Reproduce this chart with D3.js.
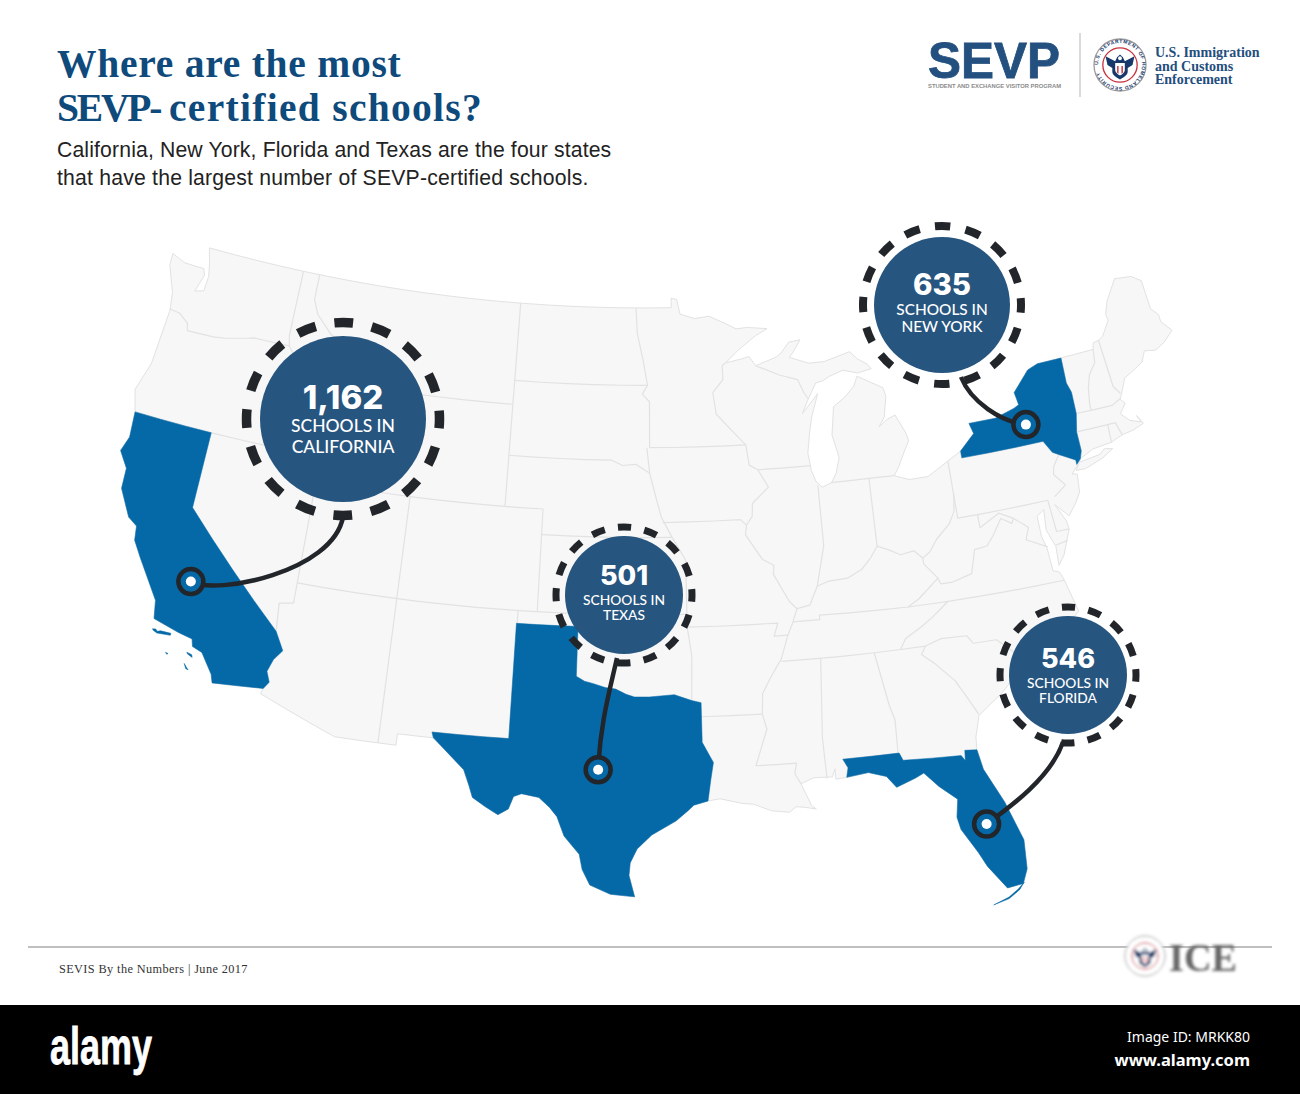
<!DOCTYPE html>
<html>
<head>
<meta charset="utf-8">
<title>Where are the most SEVP-certified schools?</title>
<style>
body { margin: 0; background: #fff; }
svg { display: block; }
.land { fill: #f7f7f7; stroke: #e2e2e2; stroke-width: 1; stroke-linejoin: round; }
.border { fill: none; stroke: #e2e2e2; stroke-width: 1.2; stroke-linejoin: round; }
.state { fill: #0569a8; stroke: #0569a8; stroke-width: .5; }
.serif { font-family: "Liberation Serif", serif; }
.sans { font-family: "Liberation Sans", sans-serif; }
.callout { fill: #fff; text-anchor: middle; }
</style>
</head>
<body>
<svg width="1300" height="1094"></svg>
<script src="https://d3js.org/d3.v7.min.js"></script>
<script>
// the numbers
var stateNames = ["CALIFORNIA", "NEW YORK", "TEXAS", "FLORIDA"];
var schoolCounts = [1162, 635, 501, 546];
var pinLonLat = [[-119.2, 36.19], [-76.05, 42.78], [-98.85, 30.94], [-81.55, 27.76]];

// lon/lat outlines
var riverCoastTX = [[-93.85,29.7],[-94.5,29.55],[-94.75,29.35],[-95.3,28.95],[-96.4,28.4],[-97.05,27.85],[-97.35,27.3],[-97.4,26.8],[-97.15,25.96],[-98.2,26.05],[-99.1,26.4],[-99.45,27],[-99.6,27.6],[-100.3,28.3],[-100.65,29.05],[-101,29.4],[-101.5,29.77],[-102.3,29.88],[-102.65,29.75],[-102.85,29.25],[-103.3,29],[-103.9,29.28],[-104.5,29.6],[-104.7,30.05],[-105,30.65],[-106,31.4],[-106.53,31.78]];
var coastFL = [[-81.45,30.7],[-81.3,29.9],[-80.6,28.5],[-80.05,26.9],[-80.13,25.75],[-80.4,25.2],[-81.1,25.13],[-81.8,26.1],[-82.1,26.7],[-82.7,27.7],[-82.8,28.2],[-82.65,28.9],[-83.4,29.5],[-84,30.1],[-84.4,29.95],[-85.3,29.68],[-85.7,30.15],[-86.5,30.38],[-87.5,30.28]];
var coastCA = [[-114.72,32.72],[-117.12,32.53],[-117.25,32.85],[-117.9,33.6],[-118.4,33.75],[-118.5,34.03],[-119.2,34.15],[-120.5,34.45],[-120.65,35.15],[-121.9,36.6],[-122.4,37.2],[-122.5,37.75],[-123,38],[-123.75,39],[-123.8,39.8],[-124.35,40.4],[-124.1,41],[-124.2,41.99]];
var outline = [[-124.73,48.38],[-123.9,48.16],[-123.1,48.15],[-122.75,48.15],[-122.6,47.9],[-122.9,47.2],[-122.4,47.3],[-122.35,47.9],[-122.5,48.4],[-122.76,49],
  [-95.15,49],[-95.15,49.38],[-94.82,49.32],[-94.64,48.74],[-93.8,48.55],[-92.95,48.62],[-92,48.3],[-91.4,48.07],[-90.75,48.1],[-89.6,48],
  [-90.3,47.75],[-91.3,47.25],[-92.1,46.75],[-91.2,46.87],[-90.75,46.95],[-90.4,46.57],[-89.2,46.85],[-88.9,47],[-88.4,47.4],[-87.75,47.45],[-88.2,47],[-88.45,46.8],[-87.4,46.5],[-86.5,46.5],[-85,46.77],[-84.6,46.45],[-84.1,46.2],[-83.9,46],[-84.7,45.9],
  [-85.5,46.08],[-86.3,45.9],[-86.7,45.75],[-87.1,45.7],[-87.6,45.1],[-88,44.55],[-87.05,45.27],[-87.5,44.4],[-87.7,43.8],[-87.9,43],[-87.8,42.3],[-87.6,41.85],[-87.3,41.62],[-86.8,41.76],[-86.5,42.1],[-86.25,42.7],[-86.5,43.6],[-86.25,44.7],[-85.6,45],[-85,45.4],[-84.75,45.78],
  [-84.1,45.5],[-83.4,45.2],[-83.3,44.85],[-83.55,44.05],[-83.9,43.7],[-83.4,43.95],[-82.95,44.07],[-82.5,43.3],[-82.42,43],[-82.9,42.4],[-83.15,42.05],[-83.45,41.73],[-82.7,41.5],[-81.7,41.5],[-80.5,41.98],[-79.76,42.27],[-78.9,42.85],[-79.05,43.27],[-77.6,43.27],[-76.5,43.5],[-76.2,43.6],[-76.3,44.1],[-75.3,44.85],[-74.7,45],
  [-71.5,45.01],[-71.4,45.25],[-71.08,45.3],[-70.8,45.4],[-70.25,45.95],[-70.3,46.2],[-70,46.7],[-69.23,47.46],[-69.05,47.43],[-68.3,47.35],[-67.8,47.07],[-67.78,45.9],[-67.45,45.6],[-67.45,45.3],[-67,44.85],
  [-67.6,44.5],[-68.2,44.3],[-68.8,44.4],[-69.1,44],[-69.8,43.75],[-70.25,43.6],[-70.6,43.1],[-70.8,42.85],[-70.6,42.65],[-71,42.3],[-70.6,41.95],[-70.05,41.78],[-70.2,42.07],[-69.95,41.7],[-70.6,41.55],[-71.15,41.5],[-71.4,41.45],[-71.85,41.32],[-72.9,41.25],[-73.65,41],[-73.75,40.85],[-74,40.7],
  [-74.25,40.5],[-74,40.45],[-74.1,39.75],[-74.4,39.4],[-74.9,38.95],[-75.5,39.5],[-75.1,38.8],[-75.05,38.45],[-75.6,37.5],[-75.95,37.15],[-75.9,37.9],[-76.2,38.6],[-76.1,39.4],[-76.5,39.2],[-76.5,38.4],[-76.35,37.9],[-76.3,37],[-76,36.9],[-75.85,36.55],[-75.5,35.25],[-76.5,34.65],[-77.9,33.9],[-78.55,33.85],[-79.2,33.2],[-79.9,32.7],[-80.7,32.25],[-81.1,32],[-81.4,31.2]]
  .concat(coastFL, [[-88,30.25],[-88,30.65],[-88.15,30.35],[-89,30.38],[-89.6,30.18],[-89.4,29.75],[-89.2,29.3],[-89,29.15],[-89.5,29.25],[-89.9,29.3],[-90.2,29.1],[-91,29.2],[-91.8,29.5],[-92.3,29.55],[-93.3,29.77]], riverCoastTX,
  [[-108.21,31.78],[-108.21,31.33],[-111.07,31.33],[-114.8,32.5]], coastCA, [[-124.55,42.84],[-124.1,44],[-123.95,46.2],[-124.1,46.9],[-124.7,47.9]]);
var longIsland = [[-74,40.6],[-73.75,40.88],[-72.6,40.98],[-72.3,41.15],[-71.87,41.07],[-72.5,40.82],[-73.5,40.58]];

var borders = [
  [[-124,46.25],[-123.4,46.2],[-122.8,45.9],[-122.7,45.62],[-121.2,45.65],[-120.5,45.72],[-119.3,45.93],[-118.98,46],[-116.92,46]],
  [[-117.03,49],[-117.04,46.42],[-116.92,46],[-116.46,45.6],[-116.85,44.95],[-117.2,44.4],[-117.03,44],[-117.03,42]],
  [[-124.2,42],[-111.05,42]],
  [[-114.63,35],[-114.74,36.1],[-114.05,36.2],[-114.05,42]],
  [[-114.05,37],[-94.62,37]],
  [[-111.05,45],[-111.05,41],[-109.05,41],[-109.05,31.33]],
  [[-111.05,45],[-104.05,45]],
  [[-109.05,41],[-102.05,41],[-102.05,37]],
  [[-116.05,49],[-116.05,48],[-115.7,47.45],[-114.7,46.75],[-114.35,46.65],[-114.55,45.55],[-113.9,45.65],[-113.45,44.95],[-113,44.45],[-112,44.55],[-111.5,44.55],[-111.05,44.48]],
  [[-104.05,49],[-104.05,41]],
  [[-104.05,45.94],[-96.56,45.94]],
  [[-104.05,43],[-98.5,43],[-97.9,42.8],[-97.2,42.85],[-96.45,42.5]],
  [[-102.05,40],[-95.3,40]],
  [[-103,37],[-103.04,32],[-106.62,32],[-106.53,31.78]],
  [[-94.62,37],[-94.62,36.5],[-94.43,35.4],[-94.48,33.64]],
  [[-94.04,33],[-91.17,33]],
  [[-94.62,36.5],[-90.15,36.5],[-90.37,36],[-89.7,36]],
  [[-94.62,37],[-94.62,39.1],[-95.3,40],[-95.85,40.8],[-96.1,41.5],[-96.45,42.5],[-96.6,43.5]],
  [[-96.45,43.5],[-96.45,45.3],[-96.85,45.6],[-96.56,45.94],[-96.8,46.9],[-97.15,48],[-97.23,49]],
  [[-96.45,43.5],[-91.22,43.5]],
  [[-95.77,40.58],[-91.73,40.6],[-91.42,40.38]],
  [[-92.1,46.75],[-92.3,46.65],[-92.3,46.1],[-92.9,45.6],[-92.75,44.75],[-91.22,43.5],[-91.1,42.7],[-90.65,42.5],[-90.15,41.8],[-91.05,41.2],[-91.1,40.7],[-91.42,40.38],[-91.5,40],[-90.7,39],[-90.15,38.75],[-90.2,38.4],[-89.5,37.3],[-89.15,37],[-89.4,36.5],[-89.7,36],[-90.1,35.1],[-90.6,34.5],[-91.1,33.8],[-91.17,33],[-91,32.4],[-91.6,31],[-89.73,31],[-89.85,30.6],[-89.6,30.18]],
  [[-90.1,35],[-83.1,35]],
  [[-88.2,35],[-88.45,31.9],[-88.4,30.3]],
  [[-85.6,35],[-85.18,32.87],[-85,32.3],[-85.05,31],[-84.86,30.7]],
  [[-85,31],[-87.6,31],[-87.4,30.65],[-87.5,30.28]],
  [[-83.1,35],[-83.35,34.7],[-82.75,34.25],[-81.95,33.5],[-81.4,32.6],[-81.1,32.05]],
  [[-83.1,35],[-82.3,35.2],[-81.05,35.15],[-80.8,34.82],[-79.67,34.8],[-78.55,33.86]],
  [[-84.32,35],[-84,35.4],[-83.2,35.75],[-82.6,36.05],[-81.68,36.59]],
  [[-83.68,36.6],[-81.68,36.59],[-75.87,36.55]],
  [[-89.4,36.5],[-88.07,36.5],[-88.07,36.68],[-83.68,36.6],[-83.1,36.85],[-82,37.54],[-81.9,37.3],[-81.3,37.3],[-80.3,37.5],[-79.95,38.4],[-79.3,38.45],[-78.9,38.8],[-78.35,39.4],[-77.83,39.13],[-77.72,39.32]],
  [[-82,37.54],[-82.6,38.17],[-82.6,38.4],[-83,38.73],[-83.7,38.65],[-84.25,38.9],[-84.82,39.1],[-85.2,38.7],[-85.75,38.27],[-86.5,38],[-87.5,37.95],[-88.05,37.8],[-88.5,37.1],[-89.15,37]],
  [[-82.6,38.4],[-82.2,38.6],[-81.75,39.05],[-81,39.55],[-80.65,40],[-80.52,40.64]],
  [[-88.05,37.8],[-87.53,39.35],[-87.53,41.7]],
  [[-84.82,39.1],[-84.8,41.76]],
  [[-86.82,41.76],[-84.8,41.76],[-83.45,41.73]],
  [[-90.65,42.5],[-87.8,42.5]],
  [[-90.4,46.57],[-89.1,46.14],[-88.1,45.9],[-87.8,45.35],[-87.6,45.1]],
  [[-80.52,41.98],[-80.52,39.72],[-75.79,39.72]],
  [[-79.76,42.27],[-79.76,42],[-75.35,42],[-75,41.5],[-74.7,41.36],[-75.1,40.95],[-75.2,40.65],[-74.72,40.15],[-75.4,39.8]],
  [[-74.7,41.36],[-73.9,41]],
  [[-79.48,39.72],[-79.48,39.2],[-78.4,39.62],[-77.72,39.32],[-77.05,38.85],[-77.3,38.4],[-76.3,37.95]],
  [[-75.79,39.72],[-75.7,38.46],[-75.05,38.45]],
  [[-75.9,37.95],[-75.25,38.03]],
  [[-73.35,45],[-73.4,44],[-73.25,43.6],[-73.28,42.75],[-73.5,42.05],[-73.5,41.3],[-73.65,41]],
  [[-71.5,45.01],[-71.6,44.5],[-72.05,44.1],[-72.3,43.6],[-72.45,43],[-72.46,42.73]],
  [[-73.28,42.75],[-71.3,42.7],[-70.8,42.87]],
  [[-73.5,42.05],[-71.8,42.02],[-71.38,42.02],[-71.2,41.5]],
  [[-71.8,42.02],[-71.85,41.32]],
  [[-71.08,45.3],[-70.98,43.4],[-70.7,43.07]]
];

var california = [[-124.2,42],[-120,42],[-120,39],[-114.63,35],[-114.14,34.3],[-114.5,33.9],[-114.7,33.4],[-114.5,33]].concat(coastCA);
var caIslands = [
  [[-120.45,34.05],[-120.3,34.07],[-120.2,34.0],[-120.05,34.05],[-119.55,34.05],[-119.55,33.97],[-120.2,33.93],[-120.4,34.0]],
  [[-118.6,33.48],[-118.35,33.43],[-118.3,33.33],[-118.55,33.42]],
  [[-118.6,33.03],[-118.45,32.9],[-118.35,32.82],[-118.48,32.85]],
  [[-119.58,33.28],[-119.45,33.26],[-119.5,33.22]]
];
var newYork = [[-79.76,42.27],[-78.9,42.85],[-79.05,43.27],[-77.6,43.27],[-76.5,43.5],[-76.2,43.6],[-76.3,44.1],[-75.3,44.85],[-74.7,45],[-73.35,45],[-73.4,44],[-73.25,43.6],[-73.28,42.75],[-73.5,42.05],[-73.5,41.3],[-73.65,41],[-73.9,40.82],[-73.9,41],[-74.7,41.36],[-75,41.5],[-75.35,42],[-79.76,42]];
var texas = [[-103.04,36.5],[-100,36.5],[-100,34.56],[-99.6,34.38],[-99.2,34.3],[-98.6,34.15],[-98.1,34.1],[-97.6,33.9],[-97.2,33.8],[-96.5,33.8],[-95.3,33.88],[-94.48,33.64],[-94.04,33.55],[-94.04,32],[-93.55,31.2],[-93.7,30.5]].concat(riverCoastTX, [[-106.62,32],[-103.04,32]]);
var florida = [[-87.6,31],[-85,31],[-84.86,30.7],[-82.2,30.57],[-82.05,30.35],[-82,30.75]].concat(coastFL, [[-87.4,30.65]]);
var floridaKeys = [[-80.35,25.25],[-80.6,24.98],[-81.1,24.7],[-81.8,24.55],[-81.1,24.76],[-80.65,25.02]];

var svg = d3.select("svg");
var projection = d3.geoAlbers().rotate([96.7, 0]).center([0, 38.7]).scale(1460).translate([645, 571]);

// straight lon/lat runs have to bend with the projection
function densify(pts) {
  var out = [];
  pts.forEach(function(p, i) {
    out.push(p);
    var q = pts[i + 1];
    if (!q) return;
    var n = Math.ceil(Math.abs(q[0] - p[0]) / 1.5);
    for (var k = 1; k < n; k++) out.push([p[0] + (q[0] - p[0]) * k / n, p[1] + (q[1] - p[1]) * k / n]);
  });
  return out;
}
function ring(pts) { return d3.line()(densify(pts.concat([pts[0]])).map(projection)) + "Z"; }
function polyline(pts) { return d3.line()(densify(pts).map(projection)); }

// header
var title = svg.append("g").attr("class", "serif").attr("fill", "#0e4a7b").attr("font-weight", "bold").attr("font-size", 39.5).attr("letter-spacing", .75);
title.append("text").attr("x", 57).attr("y", 77).text("Where are the most");
var line2 = title.append("text").attr("y", 121);
line2.append("tspan").attr("x", 57).attr("letter-spacing", -2.2).text("SEVP-");
line2.append("tspan").attr("x", 169).attr("letter-spacing", 1.3).text("certified schools?");
var sub = svg.append("g").attr("class", "sans").attr("fill", "#222").attr("font-size", 21.2);
sub.append("text").attr("x", 57).attr("y", 157).attr("letter-spacing", .14).text("California, New York, Florida and Texas are the four states");
sub.append("text").attr("x", 57).attr("y", 185).attr("letter-spacing", .2).text("that have the largest number of SEVP-certified schools.");

// logo block
var logo = svg.append("g");
logo.append("text").attr("class", "sans").attr("x", 928).attr("y", 78).attr("font-size", 50).attr("font-weight", "bold").attr("fill", "#23507f").attr("stroke", "#23507f").attr("stroke-width", .8).attr("textLength", 132).attr("lengthAdjust", "spacingAndGlyphs").text("SEVP");
logo.append("text").attr("class", "sans").attr("x", 928).attr("y", 88).attr("font-size", 6).attr("font-weight", "bold").attr("fill", "#8a8a8a").attr("textLength", 133).attr("lengthAdjust", "spacingAndGlyphs").text("STUDENT AND EXCHANGE VISITOR PROGRAM");
logo.append("line").attr("x1", 1080).attr("x2", 1080).attr("y1", 33).attr("y2", 97).attr("stroke", "#b5b5b5");
function seal(g, x, y, r) {
  var at = "translate(" + x + "," + y + ") scale(" + r / 27 + ")";
  g.append("circle").attr("cx", x).attr("cy", y).attr("r", r).attr("fill", "#fff").attr("stroke", "#9a9a9a").attr("stroke-width", r * .05);
  g.append("circle").attr("cx", x).attr("cy", y).attr("r", r * .66).attr("fill", "#fff").attr("stroke", "#c8313e").attr("stroke-width", r * .05);
  g.append("path").attr("transform", at).attr("fill", "#17386b")
    .attr("d", "M-15,-9L-5,-4L-3,-8L0,-11L3,-8L5,-4L15,-9L13,0L8,3L8,7C8,11 3,13 0,15C-3,13 -8,11 -8,7L-8,3L-13,0Z");
  g.append("circle").attr("transform", at).attr("cy", -7).attr("r", 2).attr("fill", "#fff");
  g.append("path").attr("transform", at).attr("fill", "#fff").attr("d", "M-5,-2L5,-2L5,5C5,8 2,10 0,11C-2,10 -5,8 -5,5Z");
  g.append("path").attr("transform", at).attr("fill", "#c8313e").attr("d", "M-3,1L-1.5,1L-1.5,9L-3,8ZM1.5,1L3,1L3,8L1.5,9Z");
}
seal(logo, 1120, 65, 26);
logo.append("path").attr("id", "sealArc").attr("fill", "none").attr("d", "M1098,65A22,22 0 1 1 1142,65A22,22 0 1 1 1098,65");
logo.append("text").attr("class", "sans").attr("font-size", 5).attr("font-weight", "bold").attr("fill", "#17386b")
  .append("textPath").attr("href", "#sealArc").attr("textLength", 130).text("U.S. DEPARTMENT OF HOMELAND SECURITY");
var ice = logo.append("g").attr("class", "serif").attr("font-size", 14).attr("font-weight", "bold").attr("fill", "#1f4e7d");
["U.S. Immigration", "and Customs", "Enforcement"].forEach(function(t, i) {
  ice.append("text").attr("x", 1155).attr("y", 57 + i * 13.7).text(t);
});

// map
var map = svg.append("g");
map.append("path").attr("class", "land").attr("d", ring(outline));
map.append("path").attr("class", "land").attr("d", ring(longIsland));
map.selectAll(".border").data(borders).enter().append("path").attr("class", "border").attr("d", polyline);
map.selectAll(".state").data([california, newYork, texas, florida, floridaKeys].concat(caIslands)).enter().append("path")
  .attr("class", "state").attr("d", ring);

// callouts, sizes follow the picture
var circleXY = [[343, 419], [942, 305], [624, 595], [1068, 675]];
var circleR = [83, 68, 59, 59];
var ringR = [96.5, 79, 68, 68];
var ringW = [9.5, 8, 7, 7];
var numberSize = [33, 29.5, 27, 27];
var labelSize = [17.5, 15.4, 13.8, 13.8];
var textDY = [[-10, 13, 34], [-10, 9.5, 27], [-10, 9.5, 25], [-7.5, 12.5, 28]];
var leaderStart = [[0, 98], [19, 72], [-7, 63], [-5, 67]];
var bend = [[-10, 55, 25, 14], [10, 25, -25, -3], [-8, 35, 2, -45], [-12, 35, 25, -18]];

stateNames.forEach(function(name, i) {
  var c = circleXY[i], r = circleR[i], pin = projection(pinLonLat[i]);
  var g = svg.append("g");
  g.append("circle").attr("cx", c[0]).attr("cy", c[1]).attr("r", r).attr("fill", "#26557f");
  var dash = 2 * Math.PI * ringR[i] / 32;
  g.append("circle").attr("cx", c[0]).attr("cy", c[1]).attr("r", ringR[i]).attr("fill", "none")
    .attr("stroke", "#22252a").attr("stroke-width", ringW[i])
    .attr("stroke-dasharray", dash + " " + dash).attr("stroke-dashoffset", dash / 2);
  // leader from the bottom dash down to the pin
  var sx = c[0] + leaderStart[i][0], sy = c[1] + leaderStart[i][1];
  var p = d3.path();
  p.moveTo(sx, sy);
  p.bezierCurveTo(sx + bend[i][0], sy + bend[i][1], pin[0] + bend[i][2], pin[1] + bend[i][3], pin[0], pin[1]);
  g.append("path").attr("d", p.toString()).attr("fill", "none").attr("stroke", "#22252a").attr("stroke-width", 4.5);
  g.append("circle").attr("cx", pin[0]).attr("cy", pin[1]).attr("r", 12.5).attr("fill", "#0569a8").attr("stroke", "#22252a").attr("stroke-width", 4.5);
  g.append("circle").attr("cx", pin[0]).attr("cy", pin[1]).attr("r", 5).attr("fill", "#fff");

  var t = g.append("g").attr("class", "callout");
  t.append("text").attr("x", c[0]).attr("y", c[1] + textDY[i][0]).attr("font-family", "Inter, sans-serif").attr("font-size", numberSize[i]).attr("font-weight", 800).text(d3.format(",")(schoolCounts[i]));
  t.append("text").attr("x", c[0]).attr("y", c[1] + textDY[i][1]).attr("font-family", "Lato, sans-serif").attr("font-size", labelSize[i]).attr("font-weight", 500).text("SCHOOLS IN");
  t.append("text").attr("x", c[0]).attr("y", c[1] + textDY[i][2]).attr("font-family", "Lato, sans-serif").attr("font-size", labelSize[i]).attr("font-weight", 500).text(name);
});

// footer
svg.append("line").attr("x1", 28).attr("x2", 1272).attr("y1", 947).attr("y2", 947).attr("stroke", "#aaa").attr("stroke-width", 1.5);
svg.append("text").attr("class", "serif").attr("x", 59).attr("y", 973).attr("font-size", 12.3).attr("letter-spacing", .38).attr("fill", "#333").text("SEVIS By the Numbers | June 2017");
var defs = svg.append("defs");
defs.append("filter").attr("id", "soft").append("feGaussianBlur").attr("stdDeviation", 1.4);
var iceMark = svg.append("g").attr("filter", "url(#soft)");
seal(iceMark, 1145, 956, 20);
iceMark.append("text").attr("class", "serif").attr("x", 1169).attr("y", 971).attr("font-size", 40).attr("font-weight", "bold").attr("fill", "#666").attr("textLength", 68).attr("lengthAdjust", "spacingAndGlyphs").text("ICE");

// bottom band
svg.append("rect").attr("x", 0).attr("y", 1005).attr("width", 1300).attr("height", 89).attr("fill", "#000");
svg.append("text").attr("class", "sans").attr("x", 50).attr("y", 1064).attr("font-size", 52).attr("font-weight", "bold").attr("fill", "#fff").attr("stroke", "#fff").attr("stroke-width", .8).attr("textLength", 102).attr("lengthAdjust", "spacingAndGlyphs").text("alamy");
svg.append("text").attr("font-family", "Noto Sans, sans-serif").attr("x", 1250).attr("y", 1042).attr("font-size", 14).attr("fill", "#fff").attr("text-anchor", "end").text("Image ID: MRKK80");
svg.append("text").attr("font-family", "Noto Sans, sans-serif").attr("x", 1250).attr("y", 1066).attr("font-size", 16.5).attr("font-weight", "bold").attr("fill", "#fff").attr("text-anchor", "end").text("www.alamy.com");
</script>
</body>
</html>
